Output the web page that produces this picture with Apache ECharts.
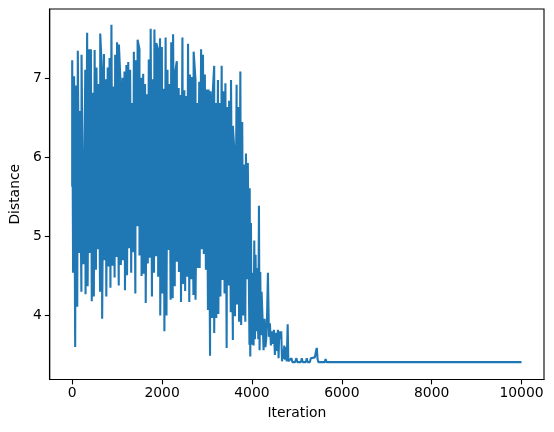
<!DOCTYPE html>
<html>
<head>
<meta charset="utf-8">
<script src="https://cdn.jsdelivr.net/npm/echarts@6/dist/echarts.min.js"></script>
<style>
html,body{margin:0;padding:0;background:#fff;}
#chart{width:554px;height:432px;}
</style>
</head>
<body>
<div id="chart"></div>
<script>
// Tick labels
var xTicks = [0, 2000, 4000, 6000, 8000, 10000];
var yTicks = [4, 5, 6, 7];

// Starting point of the run
var startPoint = [0, 5.63];

// Dense exploration phase (iterations 0..~3950): peak values read left to right
var peakValues = [7.23, 7.03, 6.91, 7.35, 6.59, 7.30, 7.30, 7.11, 7.58, 7.37, 7.37, 6.82, 7.36, 7.14, 6.93, 7.57, 7.05, 7.31, 6.99, 7.14,
  7.26, 7.68, 6.90, 7.30, 7.46, 7.43, 6.87, 7.01, 7.09, 7.17, 7.21, 7.11, 6.69, 7.34, 7.23, 7.49, 7.37, 7.01, 7.06, 6.93,
  6.80, 7.24, 7.63, 6.99, 7.62, 7.45, 7.36, 7.51, 7.40,
  6.87, 7.52, 7.11, 6.93, 7.46, 7.56, 7.06, 7.22, 6.88, 6.79, 7.52, 6.85, 6.78, 7.44, 7.05, 7.02, 7.34, 6.98, 6.69, 6.96,
  7.37, 7.30, 7.05, 6.86, 6.86, 6.84, 6.72, 7.16, 6.69, 6.98, 6.69, 7.16, 6.84, 6.94, 6.64, 6.72, 6.98, 6.40, 6.00, 6.92,
  6.64, 7.09, 6.45, 5.91, 6.05, 5.93, 5.61];
var peakSpan = [0, 3950];

// Dense exploration phase: trough values read left to right
var troughValues = [4.54, 3.60, 4.11, 4.79, 4.30, 4.65, 4.27, 4.37, 4.79, 4.18, 4.24, 4.58, 4.84, 4.30, 3.96, 4.70, 4.24, 4.62, 4.35, 4.63,
  4.48, 4.74, 4.38, 4.64, 4.70, 4.32, 4.51, 4.85, 4.54, 4.80, 4.28, 5.13, 4.76, 4.50, 4.53, 4.16, 4.66, 4.73, 4.24, 4.54,
  4.75, 4.49, 4.00, 4.28,
  3.80, 4.00, 4.83, 4.20, 4.22, 4.37, 4.68, 4.55, 4.17, 4.40, 4.31, 4.49, 4.17, 4.46, 4.26, 4.20, 4.60, 4.60, 4.84, 4.78,
  4.58, 4.07, 3.49, 3.97, 3.78, 3.97, 4.02, 4.24, 4.45, 4.28, 3.59, 4.38, 4.04, 3.69, 3.99, 4.14, 3.92, 3.88, 4.00, 3.92,
  4.46, 3.63];
var troughSpan = [20, 3945];

// Decay phase: [iteration, distance]
var decayPoints = [[3963, 3.48], [3978, 5.17], [3993, 3.63], [4008, 4.10], [4022, 4.54], [4037, 3.62], [4052, 4.95], [4067, 3.70],
  [4081, 4.77], [4096, 3.80], [4111, 4.60], [4126, 4.20], [4141, 3.70], [4156, 5.39], [4170, 3.56], [4185, 4.55], [4200, 3.75],
  [4215, 4.30], [4237, 3.95], [4259, 3.56], [4281, 3.96], [4300, 3.60], [4318, 3.70], [4337, 4.00], [4356, 4.54], [4378, 3.73],
  [4400, 3.90], [4422, 3.62], [4444, 3.80], [4467, 3.64], [4489, 3.82], [4511, 3.50], [4533, 3.78], [4556, 3.55], [4578, 3.82],
  [4593, 3.46], [4607, 3.80], [4630, 3.70], [4652, 3.80], [4670, 3.42], [4689, 3.57], [4704, 3.45], [4719, 3.62], [4737, 3.44],
  [4756, 3.60], [4775, 3.42], [4795, 3.89], [4810, 3.42], [4822, 3.43]];

// Converged phase: [iteration, distance]
var settlePoints = [[4840, 3.41], [4880, 3.46], [4900, 3.41], [4960, 3.41], [4990, 3.46], [5010, 3.41], [5090, 3.41],
  [5110, 3.46], [5130, 3.41], [5200, 3.41], [5220, 3.46], [5240, 3.41], [5290, 3.41], [5310, 3.46], [5330, 3.45],
  [5400, 3.47], [5430, 3.56], [5444, 3.59], [5460, 3.45], [5480, 3.41], [5620, 3.41], [5640, 3.45], [5660, 3.41],
  [5930, 3.41], [5950, 3.43], [5970, 3.41], [10000, 3.41]];

function place(values, span) {
  var out = [];
  var n = values.length;
  for (var i = 0; i < n; i++) {
    out.push([span[0] + (span[1] - span[0]) * i / (n - 1), values[i]]);
  }
  return out;
}

var dense = place(peakValues, peakSpan).concat(place(troughValues, troughSpan));
dense.sort(function (a, b) { return a[0] - b[0]; });
var seriesData = [startPoint].concat(dense, decayPoints, settlePoints);

var font = 'DejaVu Sans';
var chart = echarts.init(document.getElementById('chart'), null, {renderer: 'canvas'});
chart.setOption({
  animation: false,
  backgroundColor: '#ffffff',
  grid: {
    left: 48.5, right: 10, top: 9, bottom: 52.5,
    show: true, borderColor: '#000', borderWidth: 1.1, backgroundColor: 'transparent'
  },
  xAxis: {
    type: 'value', min: -500, max: 10500,
    name: 'Iteration', nameLocation: 'middle', nameGap: 27,
    nameTextStyle: {fontFamily: font, fontSize: 13.9, color: '#000'},
    axisLine: {show: true, onZero: false, lineStyle: {color: '#000', width: 1.1}},
    axisTick: {show: true, inside: false, length: 4.9, customValues: xTicks, lineStyle: {color: '#000', width: 1.1}},
    axisLabel: {show: true, margin: 7, customValues: xTicks, fontFamily: font, fontSize: 13.9, color: '#000',
      formatter: function (v) { return String(v); }},
    splitLine: {show: false}
  },
  yAxis: {
    type: 'value', min: 3.19, max: 7.88,
    name: 'Distance', nameLocation: 'middle', nameGap: 24, nameRotate: 90,
    nameTextStyle: {fontFamily: font, fontSize: 13.9, color: '#000'},
    axisLine: {show: true, onZero: false, lineStyle: {color: '#000', width: 1.1}},
    axisTick: {show: true, inside: false, length: 4.9, customValues: yTicks, lineStyle: {color: '#000', width: 1.1}},
    axisLabel: {show: true, margin: 8, customValues: yTicks, fontFamily: font, fontSize: 13.9, color: '#000',
      formatter: function (v) { return String(v); }},
    splitLine: {show: false}
  },
  series: [{
    type: 'line',
    data: seriesData,
    showSymbol: false,
    symbol: 'none',
    sampling: null,
    lineStyle: {color: '#1f77b4', width: 2.1},
    itemStyle: {color: '#1f77b4'}
  }]
});
</script>
</body>
</html>
